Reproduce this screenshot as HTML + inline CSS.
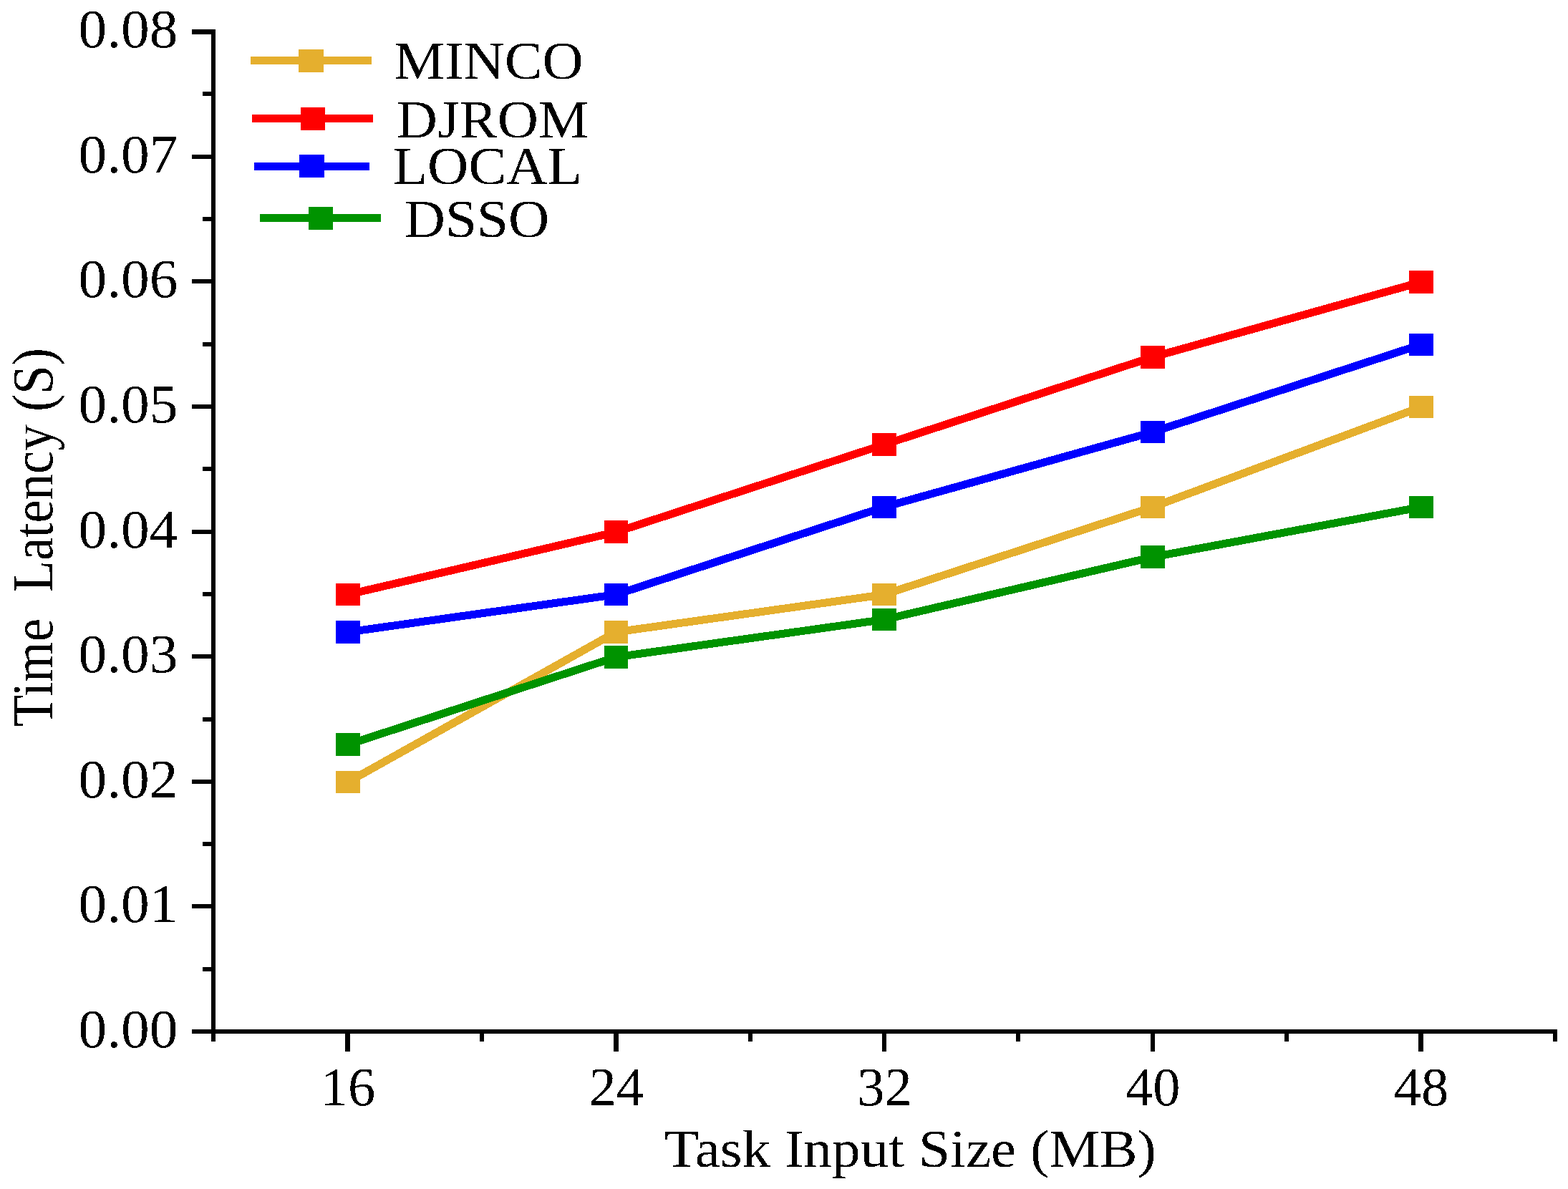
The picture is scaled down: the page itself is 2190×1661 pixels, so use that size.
<!DOCTYPE html><html><head><meta charset="utf-8"><title>Time Latency vs Task Input Size</title>
<style>html,body{margin:0;padding:0;background:#fff;overflow:hidden;}svg{display:block;}</style></head><body>
<svg width="2190" height="1661" viewBox="0 0 2190 1661">
<rect x="0" y="0" width="2190" height="1661" fill="#fff"/>
<g fill="#000" shape-rendering="crispEdges">
<rect x="295" y="41" width="6" height="1414"/>
<rect x="268" y="1438" width="1907" height="6"/>
<rect x="268" y="1438" width="30" height="6"/>
<rect x="268" y="1263" width="30" height="6"/>
<rect x="268" y="1089" width="30" height="6"/>
<rect x="268" y="914" width="30" height="6"/>
<rect x="268" y="740" width="30" height="6"/>
<rect x="268" y="565" width="30" height="6"/>
<rect x="268" y="390" width="30" height="6"/>
<rect x="268" y="216" width="30" height="6"/>
<rect x="268" y="41" width="30" height="7"/>
<rect x="283" y="1351" width="15" height="6"/>
<rect x="283" y="1176" width="15" height="6"/>
<rect x="283" y="1002" width="15" height="6"/>
<rect x="283" y="827" width="15" height="6"/>
<rect x="283" y="652" width="15" height="6"/>
<rect x="283" y="478" width="15" height="6"/>
<rect x="283" y="303" width="15" height="6"/>
<rect x="283" y="128" width="15" height="6"/>
<rect x="482" y="1441" width="7" height="28"/>
<rect x="857" y="1441" width="7" height="28"/>
<rect x="1232" y="1441" width="6" height="28"/>
<rect x="1607" y="1441" width="6" height="28"/>
<rect x="1981" y="1441" width="7" height="28"/>
<rect x="295" y="1441" width="6" height="14"/>
<rect x="670" y="1441" width="6" height="14"/>
<rect x="1045" y="1441" width="6" height="14"/>
<rect x="1419" y="1441" width="6" height="14"/>
<rect x="1794" y="1441" width="6" height="14"/>
<rect x="2169" y="1441" width="6" height="14"/>
</g>
<polyline points="486.00,1092.50 860.50,882.95 1235.00,830.56 1610.00,708.32 1985.00,568.62" fill="none" stroke="#E5AF2E" stroke-width="11" shape-rendering="crispEdges"/>
<rect x="469" y="1077" width="34" height="31" fill="#E5AF2E" shape-rendering="crispEdges"/>
<rect x="844" y="867" width="33" height="32" fill="#E5AF2E" shape-rendering="crispEdges"/>
<rect x="1218" y="815" width="34" height="31" fill="#E5AF2E" shape-rendering="crispEdges"/>
<rect x="1593" y="693" width="34" height="31" fill="#E5AF2E" shape-rendering="crispEdges"/>
<rect x="1968" y="553" width="34" height="31" fill="#E5AF2E" shape-rendering="crispEdges"/>
<polyline points="486.00,1040.11 860.50,917.88 1235.00,865.49 1610.00,778.18 1985.00,708.32" fill="none" stroke="#009300" stroke-width="11" shape-rendering="crispEdges"/>
<rect x="469" y="1024" width="34" height="32" fill="#009300" shape-rendering="crispEdges"/>
<rect x="844" y="902" width="33" height="32" fill="#009300" shape-rendering="crispEdges"/>
<rect x="1218" y="850" width="34" height="31" fill="#009300" shape-rendering="crispEdges"/>
<rect x="1593" y="762" width="34" height="32" fill="#009300" shape-rendering="crispEdges"/>
<rect x="1968" y="693" width="34" height="31" fill="#009300" shape-rendering="crispEdges"/>
<polyline points="486.00,882.95 860.50,830.56 1235.00,708.32 1610.00,603.55 1985.00,481.31" fill="none" stroke="#0000FF" stroke-width="11" shape-rendering="crispEdges"/>
<rect x="469" y="867" width="34" height="32" fill="#0000FF" shape-rendering="crispEdges"/>
<rect x="844" y="815" width="33" height="31" fill="#0000FF" shape-rendering="crispEdges"/>
<rect x="1218" y="693" width="34" height="31" fill="#0000FF" shape-rendering="crispEdges"/>
<rect x="1593" y="588" width="34" height="31" fill="#0000FF" shape-rendering="crispEdges"/>
<rect x="1968" y="466" width="34" height="31" fill="#0000FF" shape-rendering="crispEdges"/>
<polyline points="486.00,830.56 860.50,743.25 1235.00,621.01 1610.00,498.77 1985.00,394.00" fill="none" stroke="#FF0000" stroke-width="11" shape-rendering="crispEdges"/>
<rect x="469" y="815" width="34" height="31" fill="#FF0000" shape-rendering="crispEdges"/>
<rect x="844" y="727" width="33" height="32" fill="#FF0000" shape-rendering="crispEdges"/>
<rect x="1218" y="605" width="34" height="32" fill="#FF0000" shape-rendering="crispEdges"/>
<rect x="1593" y="483" width="34" height="32" fill="#FF0000" shape-rendering="crispEdges"/>
<rect x="1968" y="378" width="34" height="32" fill="#FF0000" shape-rendering="crispEdges"/>
<g shape-rendering="crispEdges">
<rect x="350" y="79" width="169" height="11" fill="#E5AF2E"/>
<rect x="417" y="69" width="35" height="32" fill="#E5AF2E"/>
<rect x="352" y="160" width="169" height="11" fill="#FF0000"/>
<rect x="420" y="150" width="34" height="32" fill="#FF0000"/>
<rect x="355" y="227" width="161" height="11" fill="#0000FF"/>
<rect x="418" y="216" width="35" height="32" fill="#0000FF"/>
<rect x="363" y="299" width="169" height="11" fill="#009300"/>
<rect x="431" y="289" width="34" height="32" fill="#009300"/>
</g>
<defs><filter id="bin" x="0" y="0" width="2190" height="1661" filterUnits="userSpaceOnUse" color-interpolation-filters="sRGB"><feComponentTransfer><feFuncA type="discrete" tableValues="0 1"/></feComponentTransfer></filter></defs>
<g font-family="'Liberation Serif', 'Times New Roman', serif" fill="#000" filter="url(#bin)">
<text transform="translate(248.40,1462.90) scale(1.0360,1)" font-size="76.60" text-anchor="end">0.00</text>
<text transform="translate(248.40,1288.30) scale(1.0360,1)" font-size="76.60" text-anchor="end">0.01</text>
<text transform="translate(248.40,1113.70) scale(1.0360,1)" font-size="76.60" text-anchor="end">0.02</text>
<text transform="translate(248.40,939.10) scale(1.0360,1)" font-size="76.60" text-anchor="end">0.03</text>
<text transform="translate(248.40,764.50) scale(1.0360,1)" font-size="76.60" text-anchor="end">0.04</text>
<text transform="translate(248.40,589.90) scale(1.0360,1)" font-size="76.60" text-anchor="end">0.05</text>
<text transform="translate(248.40,415.30) scale(1.0360,1)" font-size="76.60" text-anchor="end">0.06</text>
<text transform="translate(248.40,240.70) scale(1.0360,1)" font-size="76.60" text-anchor="end">0.07</text>
<text transform="translate(248.40,66.10) scale(1.0360,1)" font-size="76.60" text-anchor="end">0.08</text>
<text transform="translate(486.00,1544.00) scale(1.0000,1)" font-size="76.50" text-anchor="middle">16</text>
<text transform="translate(860.75,1544.00) scale(1.0000,1)" font-size="76.50" text-anchor="middle">24</text>
<text transform="translate(1235.50,1544.00) scale(1.0000,1)" font-size="76.50" text-anchor="middle">32</text>
<text transform="translate(1610.25,1544.00) scale(1.0000,1)" font-size="76.50" text-anchor="middle">40</text>
<text transform="translate(1985.00,1544.00) scale(1.0000,1)" font-size="76.50" text-anchor="middle">48</text>
<text transform="translate(550.60,109.90) scale(1.0570,1)" font-size="75.00" text-anchor="start">MINCO</text>
<text transform="translate(553.70,192.00) scale(1.0570,1)" font-size="75.00" text-anchor="start">DJROM</text>
<text transform="translate(548.70,256.70) scale(1.0570,1)" font-size="75.00" text-anchor="start">LOCAL</text>
<text transform="translate(564.70,330.70) scale(1.0570,1)" font-size="75.00" text-anchor="start">DSSO</text>
<text transform="translate(927.80,1630.10) scale(1.0560,1)" font-size="75.00" text-anchor="start">Task Input Size (MB)</text>
<text transform="translate(73.00,1015.00) rotate(-90) scale(0.9100,1)" font-size="80.00" text-anchor="start" xml:space="preserve" style="white-space:pre">Time  Latency (S)</text>
</g>
</svg></body></html>
